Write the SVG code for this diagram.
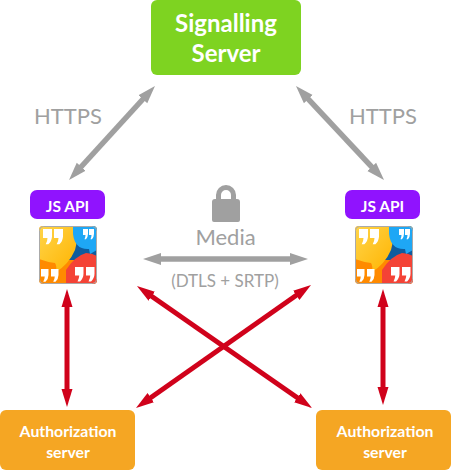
<svg xmlns="http://www.w3.org/2000/svg" width="451" height="470" viewBox="0 0 451 470">
<style>
text{font-family:"Lato","Liberation Sans",sans-serif;text-anchor:middle}
.g{fill:#a0a0a0}
.w{fill:#fff;font-weight:700}
.gl{stroke:#a0a0a0;stroke-width:5.500;fill:none;marker-start:url(#ag);marker-end:url(#ag)}
.rl{stroke:#d0021b;stroke-width:5;fill:none;marker-start:url(#ar);marker-end:url(#ar)}
.api{fill:#9013fe}
.or{fill:#f5a623}
</style>
<defs>
<marker id="ag" markerUnits="userSpaceOnUse" markerWidth="20" markerHeight="14" refX="1" refY="7" orient="auto-start-reverse"><path d="M0 1L18 7L0 13Z" fill="#a0a0a0"/></marker>
<marker id="ar" markerUnits="userSpaceOnUse" markerWidth="20" markerHeight="12" refX="1" refY="6" orient="auto-start-reverse"><path d="M0 .5L18 6L0 11.500Z" fill="#d0021b"/></marker>
<path id="q" d="M0 0h10v8q0 5-4 9h-3q2-4 2-7h-5z" fill="#fff"/>
<linearGradient id="yg" x1="0" y1="0" x2="1" y2="1"><stop offset="0" stop-color="#ffd54a"/><stop offset="1" stop-color="#ffb300"/></linearGradient>
<clipPath id="ic"><rect width="58" height="58" rx="4"/></clipPath>
<g id="icon">
<g clip-path="url(#ic)">
<rect width="58" height="58" fill="#ff8a00"/>
<path d="M30 12H58V34H30Z" fill="#0f5c9e"/>
<path d="M27 58V44Q36 30 47 27Q53 27 58 30V58Z" fill="#f44336"/>
<path d="M0 0H34Q40 12 36 24Q30 38 17 46Q18 40 16 37Q8 36 0 33Z" fill="url(#yg)"/>
<path d="M34 0H58V24L51 28L50 23Q36 24 34 8Z" fill="#1ea7f5"/>
<use href="#q" transform="translate(4 3) scale(.9)"/>
<use href="#q" transform="translate(15 3) scale(.9)"/>
<use href="#q" transform="translate(44 3) scale(.5 .6)"/>
<use href="#q" transform="translate(50 3) scale(.5 .6)"/>
<use href="#q" transform="translate(2 43) scale(.75)"/>
<use href="#q" transform="translate(12 43) scale(.75)"/>
<use href="#q" transform="translate(36 41) scale(.85)"/>
<use href="#q" transform="translate(47 41) scale(.85)"/>
</g>
<rect x=".5" y=".5" width="57" height="57" rx="4" fill="none" stroke="#aaa"/>
</g>
</defs>
<g id="connectors">
<line class="gl" x1="143.5" y1="98.5" x2="80.5" y2="167.5"/>
<line class="gl" x1="307.6" y1="98.4" x2="372.4" y2="167.6"/>
<line class="gl" x1="160" y1="259" x2="291" y2="259"/>
<line class="rl" x1="67" y1="306" x2="67" y2="390"/>
<line class="rl" x1="383" y1="306" x2="383" y2="388"/>
<line class="rl" x1="150.900" y1="295.700" x2="298.100" y2="398.300"/>
<line class="rl" x1="297.100" y1="294.800" x2="149.900" y2="398.200"/>
</g>
<g id="signalling-server">
<rect x="151" y="0" width="150" height="75" rx="6" fill="#7ed321"/>
<text class="w" x="226" y="32" font-size="24">Signalling</text>
<text class="w" x="226" y="62" font-size="24">Server</text>
</g>
<g id="https-left"><text class="g" x="68" y="124" font-size="22">HTTPS</text></g>
<g id="https-right"><text class="g" x="383" y="124" font-size="22">HTTPS</text></g>
<g id="js-api-left">
<rect class="api" x="30" y="190" width="75" height="29" rx="7"/>
<text class="w" x="67.5" y="212" font-size="15.5">JS API</text>
<use href="#icon" x="39" y="226"/>
</g>
<g id="js-api-right">
<rect class="api" x="345" y="190" width="75" height="29" rx="7"/>
<text class="w" x="382.5" y="212" font-size="15.5">JS API</text>
<use href="#icon" x="355" y="226"/>
</g>
<g id="media">
<path class="g" d="M212 202a3 3 0 0 1 3-3h1v-4a10 10 0 0 1 20 0v4h1a3 3 0 0 1 3 3v18a2 2 0 0 1-2 2h-24a2 2 0 0 1-2-2zM221 199h10v-4a5 5 0 0 0-10 0z" fill-rule="evenodd"/>
<text class="g" x="225.500" y="245" font-size="22">Media</text>
<text class="g" x="225" y="287" font-size="17">(DTLS + SRTP)</text>
</g>
<g id="auth-left">
<rect class="or" x="0" y="410" width="135" height="60" rx="6"/>
<text class="w" x="68" y="437" font-size="15.800">Authorization</text>
<text class="w" x="68" y="458" font-size="15.800">server</text>
</g>
<g id="auth-right">
<rect class="or" x="316" y="410" width="135" height="60" rx="6"/>
<text class="w" x="385" y="437" font-size="15.800">Authorization</text>
<text class="w" x="385" y="458" font-size="15.800">server</text>
</g>
</svg>
